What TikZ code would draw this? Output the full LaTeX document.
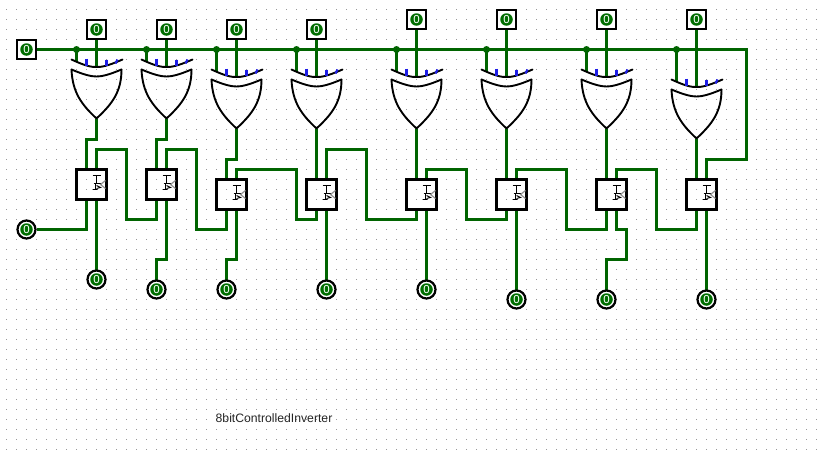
\documentclass[tikz,border=0pt]{standalone}
\usepackage{fontspec}
\setmainfont{Liberation Sans}
\definecolor{wirec}{RGB}{0,100,0}
\definecolor{zeroc}{RGB}{0,110,0}
\definecolor{tickc}{RGB}{30,30,230}
\pgfdeclarelayer{griddots}
\pgfdeclarelayer{wires}
\pgfsetlayers{griddots,wires,main}
\tikzset{
  wire/.style={draw=wirec,line width=3.1pt,line join=miter},
  gatel/.style={draw=black,line width=1.9pt,line join=round,line cap=round},
  hab/.style={draw=black,line width=2.2pt,rectangle,minimum width=30pt,minimum height=30pt,inner sep=0pt,outer sep=0pt,anchor=north west},
  insq/.style={draw=black,line width=2.2pt,rectangle,minimum width=19.5pt,minimum height=19.5pt,inner sep=0pt,outer sep=1pt},
  outc/.style={draw=black,line width=2.2pt,circle,minimum size=18pt,inner sep=0pt,outer sep=1pt},
  zero/.style={circle,fill=zeroc,minimum size=12.5pt,inner sep=0pt,text=white,font=\fontsize{11.5}{11.5}\selectfont},
  jdot/.style={circle,fill=wirec,minimum size=7pt,inner sep=0pt},
  tick/.style={draw=tickc,line width=2.2pt},
  halab/.style={draw=black,line width=0.9pt},
  halabg/.style={draw=gray!85,line width=1.2pt}
}
% gate: name, data x, vertical offset
\newcommand{\xorg}[3]{%
  \begin{scope}[shift={(#2,#3)}]
    \path[gatel] (-25,59) .. controls (-10,66) and (-5,66.5) .. (0,66.5) .. controls (5,66.5) and (10,66) .. (26,59);
    \path[gatel] (-25,69) .. controls (-12,74.5) and (-5,76) .. (0,76) .. controls (5,76) and (12,74.5) .. (25,69);
    \path[gatel] (25,69) .. controls (25,92) and (15,104) .. (0,118) .. controls (-15,104) and (-24,92) .. (-25,69);
    \path[tick] (-10,58) -- (-10,65);
    \path[tick] (10,59) -- (10,65);
    \path[tick] (21,59) -- (19,63);
    \coordinate (#1-c) at (-20,61);
    \coordinate (#1-d) at (0,65);
    \coordinate (#1-o) at (0,118);
  \end{scope}}
% half adder: name, x, y of upper left corner
\newcommand{\hadd}[3]{%
  \node[hab] (#1) at (#2,#3) {};
  \begin{scope}[shift={(#2,#3)}]
    \path[halab] (16,6) -- (24,6) (20,6) -- (20,13) (17,14) -- (24,14);
    \path[halab] (19,14) -- (19,20) (16,20) -- (21,20) (20,16) -- (24,18) -- (20,19);
    \path[halabg] (29,11) -- (24,15) -- (29,19);
    \coordinate (#1-tl) at (10,0);
    \coordinate (#1-tr) at (20,0);
    \coordinate (#1-bl) at (10,30);
    \coordinate (#1-br) at (20,30);
  \end{scope}}
\newcommand{\insquare}[3]{%
  \node[insq] (#1) at (#2,#3) {};
  \node[zero] (#1z) at (#1.center) {0};}
\newcommand{\outcirc}[3]{%
  \node[outc] (#1) at (#2,#3) {};
  \node[zero] (#1z) at (#1.center) {0};}
\begin{document}
\begin{tikzpicture}[x=1pt,y=-1pt]
\useasboundingbox (0,0) rectangle (820,455);
\begin{pgfonlayer}{griddots}
  \fill[white] (0,0) rectangle (820,455);
  \foreach \i in {0,...,81}{
    \foreach \j in {0,...,44}{
      \fill[black!40] ({6+10*\i},{9+10*\j}) rectangle ++(1,1);
    }
  }
\end{pgfonlayer}
\begin{scope}[shift={(0.5,0.5)}]
  % inputs
  \insquare{ctl}{26}{49}
  \insquare{a1}{96}{29}
  \insquare{a2}{166}{29}
  \insquare{a3}{236}{29}
  \insquare{a4}{316}{29}
  \insquare{a5}{416}{19}
  \insquare{a6}{506}{19}
  \insquare{a7}{606}{19}
  \insquare{a8}{696}{19}
  \outcirc{cin}{26}{229}
  % outputs
  \outcirc{s1}{96}{279}
  \outcirc{s2}{156}{289}
  \outcirc{s3}{226}{289}
  \outcirc{s4}{326}{289}
  \outcirc{s5}{426}{289}
  \outcirc{s6}{516}{299}
  \outcirc{s7}{606}{299}
  \outcirc{s8}{706}{299}
  % gates
  \xorg{g1}{96}{0}
  \xorg{g2}{166}{0}
  \xorg{g3}{236}{10}
  \xorg{g4}{316}{10}
  \xorg{g5}{416}{10}
  \xorg{g6}{506}{10}
  \xorg{g7}{606}{10}
  \xorg{g8}{696}{20}
  % half adders
  \hadd{h1}{76}{169}
  \hadd{h2}{146}{169}
  \hadd{h3}{216}{179}
  \hadd{h4}{306}{179}
  \hadd{h5}{406}{179}
  \hadd{h6}{496}{179}
  \hadd{h7}{596}{179}
  \hadd{h8}{686}{179}
  % junctions
  \node[jdot] (j1) at (76,49) {};
  \node[jdot] (j2) at (146,49) {};
  \node[jdot] (j3) at (216,49) {};
  \node[jdot] (j4) at (296,49) {};
  \node[jdot] (j5) at (396,49) {};
  \node[jdot] (j6) at (486,49) {};
  \node[jdot] (j7) at (586,49) {};
  \node[jdot] (j8) at (676,49) {};
  \begin{pgfonlayer}{wires}
    % control bus, ending at the carry input of the last adder
    \draw[wire] (ctl.east) -- (746,49) -- (746,159) -- (706,159) -- (h8-tr);
    \foreach \n in {1,...,8}{
      \draw[wire] (j\n.center) -- (g\n-c);
      \draw[wire] (a\n.south) -- (g\n-d);
    }
    % gate outputs to adders
    \draw[wire] (g1-o) -- (96,139) -- (86,139) -- (h1-tl);
    \draw[wire] (g2-o) -- (166,139) -- (156,139) -- (h2-tl);
    \draw[wire] (g3-o) -- (236,159) -- (226,159) -- (h3-tl);
    \draw[wire] (g4-o) -- (h4-tl);
    \draw[wire] (g5-o) -- (h5-tl);
    \draw[wire] (g6-o) -- (h6-tl);
    \draw[wire] (g7-o) -- (h7-tl);
    \draw[wire] (g8-o) -- (h8-tl);
    % carry chain
    \draw[wire] (cin.east) -- (86,229) -- (h1-bl);
    \draw[wire] (h1-tr) -- (96,149) -- (126,149) -- (126,219) -- (156,219) -- (h2-bl);
    \draw[wire] (h2-tr) -- (166,149) -- (196,149) -- (196,229) -- (226,229) -- (h3-bl);
    \draw[wire] (h3-tr) -- (236,169) -- (296,169) -- (296,219) -- (316,219) -- (h4-bl);
    \draw[wire] (h4-tr) -- (326,149) -- (366,149) -- (366,219) -- (416,219) -- (h5-bl);
    \draw[wire] (h5-tr) -- (426,169) -- (466,169) -- (466,219) -- (506,219) -- (h6-bl);
    \draw[wire] (h6-tr) -- (516,169) -- (566,169) -- (566,229) -- (606,229) -- (h7-bl);
    \draw[wire] (h7-tr) -- (616,169) -- (656,169) -- (656,229) -- (696,229) -- (h8-bl);
    % sums
    \draw[wire] (h1-br) -- (s1.north);
    \draw[wire] (h2-br) -- (166,259) -- (156,259) -- (s2.north);
    \draw[wire] (h3-br) -- (236,259) -- (226,259) -- (s3.north);
    \draw[wire] (h4-br) -- (s4.north);
    \draw[wire] (h5-br) -- (s5.north);
    \draw[wire] (h6-br) -- (s6.north);
    \draw[wire] (h7-br) -- (616,229) -- (626,229) -- (626,259) -- (606,259) -- (s7.north);
    \draw[wire] (h8-br) -- (s8.north);
  \end{pgfonlayer}
\end{scope}
\node[anchor=base west,inner sep=0pt,text=black!85,font=\fontsize{12.2}{12.2}\selectfont] (title) at (215.5,422.5) {8bitControlledInverter};
\end{tikzpicture}
\end{document}
